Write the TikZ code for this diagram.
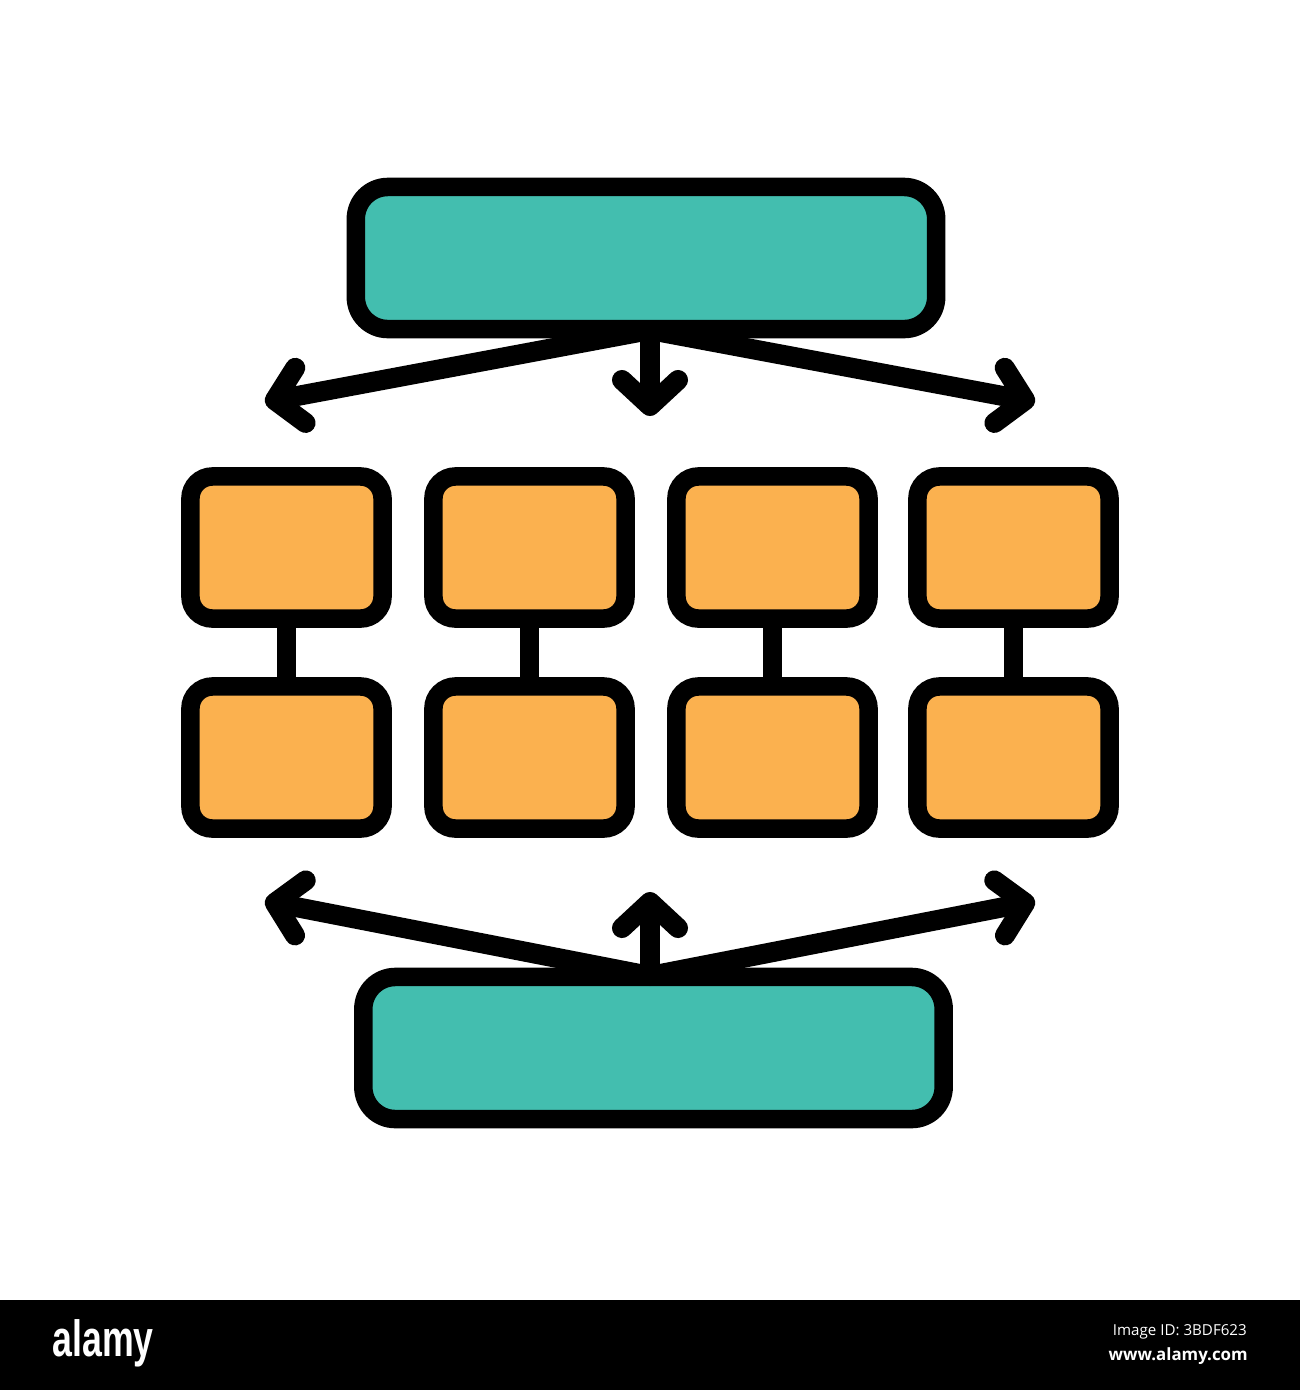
\documentclass[tikz,border=0pt]{standalone}
\usepackage{fontspec}
\setmainfont{Liberation Sans}
\newfontfamily\footerfont{Open Sans}
\usetikzlibrary{arrows.meta}

\definecolor{tealfill}{RGB}{67,190,175}
\definecolor{orangefill}{RGB}{251,177,79}

\tikzset{bar/.style={draw, fill=tealfill, rounded corners=0.32cm, minimum width=5.8cm, minimum height=1.42cm}}
\tikzset{ block/.style={draw, fill=orangefill, rounded corners=0.22cm, minimum width=1.92cm, minimum height=1.42cm}}
\tikzset{ link/.style={line width=0.19cm}}
\tikzset{ spread/.style={line width=0.2cm, line cap=round, -{Straight Barb[length=2.6mm, width=5.6mm, round]}}}

\begin{document}
\begin{tikzpicture}[x=0.01cm, y=-0.01cm, line width=0.185cm, inner sep=0pt]
  \useasboundingbox (0,0) rectangle (1300,1390);
      % Bars
  \node[bar] (TopBar) at (646,258) {};
  \node[bar] (BottomBar) at (653.5,1048) {};
  
  % Blocks
  \node[block] (Upper1) at (286.5,547.5) {};
  \node[block] (Upper2) at (529.5,547.5) {};
  \node[block] (Upper3) at (772.5,547.5) {};
  \node[block] (Upper4) at (1013.5,547.5) {};
  \node[block] (Lower1) at (286.5,757.5) {};
  \node[block] (Lower2) at (529.5,757.5) {};
  \node[block] (Lower3) at (772.5,757.5) {};
  \node[block] (Lower4) at (1013.5,757.5) {};
  
  \draw[link] (Upper1) to (Lower1);
  \draw[link] (Upper2) to (Lower2);
  \draw[link] (Upper3) to (Lower3);
  \draw[link] (Upper4) to (Lower4);
  
  % Arrows
  \coordinate (TopApex) at (650,330);
  \coordinate (TopLeft) at (265,402);
  \coordinate (TopMid) at (650,416);
  \coordinate (TopRight) at (1035,402);
  \coordinate (BottomApex) at (650,976);
  \coordinate (BottomLeft) at (265,901);
  \coordinate (BottomMid) at (650,892);
  \coordinate (BottomRight) at (1035,901);
  
  \draw[spread] (TopApex) to (TopLeft);
  \draw[spread] (TopApex) to (TopMid);
  \draw[spread] (TopApex) to (TopRight);
  
  \draw[spread] (BottomApex) to (BottomLeft);
  \draw[spread] (BottomApex) to (BottomMid);
  \draw[spread] (BottomApex) to (BottomRight);
  
  % Footer
  \fill[black] (0,1300) rectangle (1300,1390);
  \node[text=white, font=\bfseries\fontsize{14.5}{16}\selectfont, xscale=0.7, anchor=west] (Brand) at (46,1343) {alamy};
  \node[text=white, font=\footerfont\fontsize{4.3}{6}\selectfont, anchor=east] (ImageId) at (1256,1332) {Image ID: 3BDF623};
  \node[text=white, font=\footerfont\bfseries\fontsize{4.8}{6}\selectfont, anchor=east] (Site) at (1257,1356) {www.alamy.com};
  
    \end{tikzpicture}
\end{document}
